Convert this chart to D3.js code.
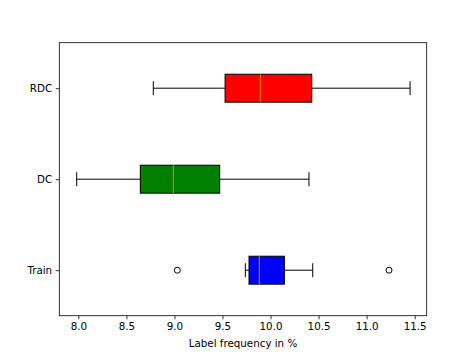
<!DOCTYPE html>
<html>
<head>
<meta charset="utf-8">
<script src="https://cdn.jsdelivr.net/npm/d3@7"></script>
<style>
  body { margin: 0; background: #fff; }
  text { font-family: "DejaVu Sans", sans-serif; font-size: 10.3px; fill: #000; }
</style>
</head>
<body>
<div id="chart"></div>
<script>
// box statistics
const categories = ["Train", "DC", "RDC"];
const colors = ["#0000ff", "#008000", "#ff0000"];
const whiskerLow = [9.738, 7.983, 8.78];
const q1 = [9.776, 8.645, 9.527];
const medians = [9.883, 8.989, 9.894];
const q3 = [10.144, 9.471, 10.429];
const whiskerHigh = [10.439, 10.40, 11.452];
const fliers = [[9.03, 11.233], [], []];
const xTicks = [8.0, 8.5, 9.0, 9.5, 10.0, 10.5, 11.0, 11.5];

const W = 474, H = 355;
const margin = { top: 42.7, right: 47.3, bottom: 39.3, left: 59.3 };
const width = W - margin.left - margin.right;
const height = H - margin.top - margin.bottom;

const svg = d3.select("#chart").append("svg")
    .attr("width", W)
    .attr("height", H);

const plot = svg.append("g")
    .attr("transform", `translate(${margin.left},${margin.top})`);

const x = d3.scaleLinear().domain([7.802, 11.625]).range([0, width]);
const y = d3.scaleLinear().domain([0.5, 3.5]).range([height, 0]);

const boxH = y(0) - y(0.307);
const capH = boxH / 2;

const data = categories.map((c, i) => ({
    name: c, pos: i + 1, color: colors[i],
    lo: whiskerLow[i], q1: q1[i], med: medians[i], q3: q3[i], hi: whiskerHigh[i],
    fliers: fliers[i]
}));

const g = plot.selectAll("g.box").data(data).enter().append("g").attr("class", "box");

// whiskers
g.append("line")
    .attr("x1", d => x(d.lo)).attr("x2", d => x(d.q1))
    .attr("y1", d => y(d.pos)).attr("y2", d => y(d.pos))
    .attr("stroke", "#000").attr("stroke-width", 1);
g.append("line")
    .attr("x1", d => x(d.q3)).attr("x2", d => x(d.hi))
    .attr("y1", d => y(d.pos)).attr("y2", d => y(d.pos))
    .attr("stroke", "#000").attr("stroke-width", 1);
// caps
["lo", "hi"].forEach(k => {
    g.append("line")
        .attr("x1", d => x(d[k])).attr("x2", d => x(d[k]))
        .attr("y1", d => y(d.pos) - capH / 2).attr("y2", d => y(d.pos) + capH / 2)
        .attr("stroke", "#000").attr("stroke-width", 1);
});
// boxes
g.append("rect")
    .attr("x", d => x(d.q1))
    .attr("width", d => x(d.q3) - x(d.q1))
    .attr("y", d => y(d.pos) - boxH / 2)
    .attr("height", boxH)
    .attr("fill", d => d.color)
    .attr("stroke", "#000").attr("stroke-width", 1);
// medians
g.append("line")
    .attr("x1", d => x(d.med)).attr("x2", d => x(d.med))
    .attr("y1", d => y(d.pos) - boxH / 2).attr("y2", d => y(d.pos) + boxH / 2)
    .attr("stroke", "#ff7f0e").attr("stroke-width", 1);
// fliers
g.selectAll("circle").data(d => d.fliers.map(v => ({ v, pos: d.pos }))).enter()
    .append("circle")
    .attr("cx", d => x(d.v)).attr("cy", d => y(d.pos))
    .attr("r", 3)
    .attr("fill", "none").attr("stroke", "#000").attr("stroke-width", 1);

// axes
const xAxis = plot.append("g")
    .attr("transform", `translate(0,${height})`)
    .call(d3.axisBottom(x).tickValues(xTicks).tickFormat(d3.format(".1f")).tickSizeOuter(0).tickSize(3.6).tickPadding(3.6));
const yAxis = plot.append("g")
    .call(d3.axisLeft(y).tickValues([1, 2, 3]).tickFormat(d => categories[d - 1]).tickSizeOuter(0).tickSize(3.6).tickPadding(3.6));
[xAxis, yAxis].forEach(a => {
    a.select(".domain").remove();
    a.selectAll("text").style("font-family", "'DejaVu Sans', sans-serif").style("font-size", "10.3px").attr("fill", "#000");
    a.selectAll("line").attr("stroke", "#000").attr("stroke-width", 0.8);
});

// frame
plot.append("rect")
    .attr("width", width).attr("height", height)
    .attr("fill", "none").attr("stroke", "#000").attr("stroke-width", 0.8);

// axis label
svg.append("text")
    .attr("x", margin.left + width / 2)
    .attr("y", 346.5)
    .attr("text-anchor", "middle")
    .text("Label frequency in %");
</script>
</body>
</html>
